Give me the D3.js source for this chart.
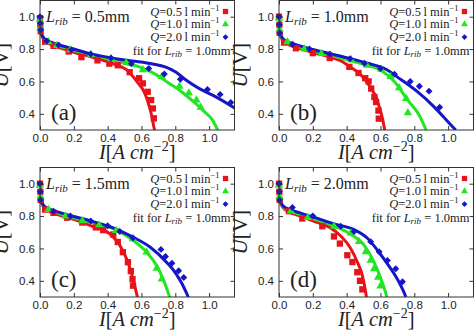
<!DOCTYPE html>
<html>
<head>
<meta charset="utf-8">
<script src="https://cdn.jsdelivr.net/npm/d3@7"></script>
<style>
  body { margin: 0; background: #fff; }
  svg { display: block; }
</style>
</head>
<body>
<div id="container"></div>
<script>
// panel texts
const ribLabels = ['0.5', '1.0', '1.5', '2.0'];
const panelTags = ['(a)', '(b)', '(c)', '(d)'];
const flowLabels = ['0.5', '1.0', '2.0'];
const xTicks = [0, 0.2, 0.4, 0.6, 0.8, 1.0];
const yTicks = [0.4, 0.6, 0.8, 1.0];

// measured points [I, U], panel (a) L_rib = 0.5mm
const measA05 = [[0,0.99],[0.002,0.95],[0.004,0.91],[0.03,0.845],[0.08,0.82],[0.17,0.785],[0.245,0.75],[0.34,0.73],[0.41,0.71],[0.46,0.70],[0.53,0.657],[0.586,0.62],[0.608,0.588],[0.637,0.536],[0.657,0.485],[0.667,0.433],[0.673,0.372]];
const measA10 = [[0,0.98],[0.003,0.93],[0.05,0.845],[0.1,0.822],[0.18,0.795],[0.3,0.765],[0.42,0.74],[0.51,0.715],[0.608,0.672],[0.72,0.63],[0.824,0.57],[0.88,0.528],[0.925,0.485],[0.95,0.44]];
const measA20 = [[0,1.0],[0.002,0.96],[0.004,0.92],[0.04,0.85],[0.11,0.825],[0.186,0.795],[0.3,0.77],[0.42,0.745],[0.54,0.71],[0.643,0.68],[0.735,0.646],[0.83,0.613],[0.99,0.55],[1.065,0.52],[1.128,0.47]];
// fits, panel (a)
const fitA05 = [[0,1.0],[0.002,0.94],[0.008,0.89],[0.025,0.855],[0.06,0.83],[0.1,0.813],[0.2,0.78],[0.3,0.752],[0.4,0.722],[0.47,0.695],[0.52,0.665],[0.55,0.63],[0.58,0.59],[0.61,0.547],[0.63,0.5],[0.647,0.443],[0.662,0.38],[0.673,0.32],[0.68,0.29]];
const fitA10 = [[0,1.0],[0.002,0.945],[0.008,0.895],[0.025,0.86],[0.06,0.838],[0.1,0.823],[0.2,0.793],[0.3,0.767],[0.4,0.742],[0.47,0.722],[0.53,0.705],[0.588,0.69],[0.65,0.662],[0.706,0.629],[0.76,0.59],[0.824,0.547],[0.87,0.508],[0.92,0.464],[0.97,0.415],[1.02,0.361],[1.055,0.29]];
const fitA20 = [[0,1.0],[0.002,0.95],[0.008,0.9],[0.025,0.865],[0.06,0.845],[0.1,0.83],[0.2,0.8],[0.3,0.77],[0.4,0.75],[0.47,0.737],[0.56,0.725],[0.667,0.708],[0.74,0.69],[0.8,0.66],[0.863,0.609],[0.94,0.557],[1.04,0.505],[1.16,0.43]];

// panel (b) L_rib = 1.0mm
const measB05 = [[0,1.0],[0.002,0.95],[0.004,0.9],[0.03,0.84],[0.1,0.805],[0.2,0.775],[0.3,0.745],[0.416,0.69],[0.47,0.652],[0.51,0.62],[0.53,0.6],[0.545,0.556],[0.564,0.504],[0.574,0.473],[0.588,0.42],[0.59,0.37]];
const measB10 = [[0,0.99],[0.003,0.92],[0.05,0.845],[0.15,0.8],[0.25,0.772],[0.426,0.733],[0.52,0.7],[0.604,0.675],[0.66,0.63],[0.71,0.56],[0.752,0.494],[0.762,0.406]];
const measB20 = [[0,1.0],[0.002,0.95],[0.004,0.9],[0.08,0.83],[0.18,0.8],[0.3,0.77],[0.42,0.74],[0.505,0.712],[0.6,0.68],[0.683,0.645],[0.776,0.6],[0.83,0.57],[0.887,0.54],[0.95,0.44]];
const fitB05 = [[0,1.0],[0.002,0.935],[0.008,0.885],[0.025,0.85],[0.06,0.826],[0.1,0.81],[0.2,0.78],[0.3,0.75],[0.36,0.73],[0.42,0.69],[0.485,0.64],[0.545,0.556],[0.575,0.5],[0.594,0.44],[0.612,0.37],[0.625,0.3]];
const fitB10 = [[0,1.0],[0.002,0.94],[0.008,0.89],[0.025,0.855],[0.06,0.835],[0.1,0.82],[0.2,0.79],[0.3,0.762],[0.4,0.735],[0.5,0.705],[0.604,0.668],[0.683,0.598],[0.762,0.483],[0.83,0.39],[0.87,0.3]];
const fitB20 = [[0,1.0],[0.002,0.945],[0.008,0.895],[0.025,0.862],[0.06,0.842],[0.1,0.827],[0.2,0.797],[0.3,0.772],[0.4,0.747],[0.525,0.712],[0.624,0.68],[0.723,0.61],[0.82,0.535],[0.92,0.44],[1.0,0.35],[1.045,0.3]];

// panel (c) L_rib = 1.5mm
const measC05 = [[0,1.0],[0.002,0.95],[0.004,0.9],[0.03,0.84],[0.08,0.82],[0.16,0.79],[0.25,0.76],[0.33,0.73],[0.374,0.713],[0.433,0.686],[0.46,0.64],[0.49,0.577],[0.52,0.515],[0.537,0.46],[0.547,0.41],[0.55,0.37]];
const measC10 = [[0,0.99],[0.003,0.92],[0.05,0.84],[0.15,0.8],[0.25,0.77],[0.35,0.745],[0.45,0.71],[0.55,0.66],[0.63,0.577],[0.69,0.477],[0.72,0.41]];
const measC20 = [[0,1.0],[0.002,0.95],[0.004,0.9],[0.08,0.83],[0.18,0.8],[0.3,0.77],[0.4,0.74],[0.472,0.705],[0.55,0.665],[0.715,0.594],[0.742,0.55],[0.78,0.508],[0.82,0.462],[0.85,0.42]];
const fitC05 = [[0,1.0],[0.002,0.935],[0.008,0.885],[0.025,0.85],[0.06,0.826],[0.1,0.81],[0.2,0.78],[0.315,0.734],[0.413,0.69],[0.472,0.62],[0.52,0.515],[0.55,0.41],[0.57,0.326],[0.576,0.3]];
const fitC10 = [[0,1.0],[0.002,0.94],[0.008,0.89],[0.025,0.855],[0.06,0.835],[0.1,0.82],[0.2,0.79],[0.3,0.762],[0.453,0.713],[0.55,0.65],[0.63,0.577],[0.69,0.494],[0.728,0.41],[0.758,0.326],[0.77,0.29]];
const fitC20 = [[0,1.0],[0.002,0.945],[0.008,0.895],[0.025,0.862],[0.06,0.842],[0.1,0.827],[0.2,0.797],[0.3,0.77],[0.45,0.72],[0.55,0.67],[0.65,0.609],[0.748,0.515],[0.807,0.44],[0.866,0.326],[0.88,0.29]];

// panel (d) L_rib = 2.0mm
const measD05 = [[0,1.0],[0.002,0.95],[0.004,0.9],[0.059,0.83],[0.138,0.785],[0.256,0.737],[0.325,0.674],[0.36,0.63],[0.404,0.558],[0.434,0.516],[0.463,0.453],[0.479,0.4],[0.493,0.347]];
const measD10 = [[0,0.99],[0.003,0.92],[0.07,0.83],[0.17,0.79],[0.325,0.737],[0.424,0.695],[0.473,0.642],[0.513,0.579],[0.542,0.526],[0.562,0.474],[0.586,0.421],[0.6,0.368]];
const measD20 = [[0,1.0],[0.002,0.95],[0.004,0.9],[0.079,0.853],[0.2,0.8],[0.365,0.737],[0.444,0.705],[0.542,0.642],[0.592,0.579],[0.641,0.526],[0.69,0.474],[0.73,0.394]];
const fitD05 = [[0,1.0],[0.002,0.935],[0.008,0.885],[0.025,0.85],[0.06,0.825],[0.128,0.8],[0.2,0.77],[0.3,0.73],[0.365,0.677],[0.424,0.6],[0.463,0.516],[0.493,0.432],[0.513,0.326],[0.518,0.29]];
const fitD10 = [[0,1.0],[0.002,0.94],[0.008,0.89],[0.025,0.855],[0.06,0.835],[0.1,0.818],[0.2,0.785],[0.325,0.74],[0.424,0.688],[0.503,0.621],[0.562,0.516],[0.6,0.42],[0.631,0.326],[0.64,0.29]];
const fitD20 = [[0,1.0],[0.002,0.945],[0.008,0.895],[0.025,0.862],[0.06,0.842],[0.1,0.827],[0.2,0.795],[0.325,0.752],[0.444,0.716],[0.523,0.663],[0.582,0.589],[0.641,0.505],[0.7,0.41],[0.74,0.326],[0.75,0.3]];

const measured = [[measA05, measA10, measA20], [measB05, measB10, measB20], [measC05, measC10, measC20], [measD05, measD10, measD20]];
const fits = [[fitA05, fitA10, fitA20], [fitB05, fitB10, fitB20], [fitC05, fitC10, fitC20], [fitD05, fitD10, fitD20]];

const colors = ['#e8121a', '#22e622', '#1616c8'];
const symbols = [d3.symbolSquare, d3.symbolTriangle, d3.symbolSquare];
const symSizes = [40, 30, 24];
const symRotate = [0, 0, 45];

const W = 474, H = 332;
const plotW = 194.5, plotH = 129.5;
const origins = [[40, 0.5], [279, 0.5], [40, 167.5], [279, 167.5]];
const serif = '"Liberation Serif", "DejaVu Serif", serif';
const sans = '"Liberation Sans", Arial, sans-serif';

const svg = d3.select('#container')
    .append('svg')
    .attr('width', W)
    .attr('height', H)
    .attr('viewBox', `0 0 ${W} ${H}`);

svg.append('rect').attr('width', W).attr('height', H).attr('fill', '#fff');

const x = d3.scaleLinear().domain([0, 1.15]).range([0, plotW]);
const y = d3.scaleLinear().domain([0.3, 1.1]).range([plotH, 0]);

const line = d3.line()
    .x(d => x(d[0]))
    .y(d => y(d[1]))
    .curve(d3.curveMonotoneX);

origins.forEach((o, p) => {
    const g = svg.append('g').attr('transform', `translate(${o[0]}, ${o[1]})`);

    g.append('clipPath').attr('id', 'clip' + p)
        .append('rect').attr('width', plotW).attr('height', plotH);

    // fit curves
    g.append('g').attr('clip-path', `url(#clip${p})`)
        .selectAll('path')
        .data(fits[p]).enter()
        .append('path')
        .attr('d', d => line(d))
        .attr('fill', 'none')
        .attr('stroke', (d, i) => colors[i])
        .attr('stroke-width', 3)
        .attr('stroke-linejoin', 'round');

    // measured points
    measured[p].forEach((series, i) => {
        g.append('g')
            .selectAll('path')
            .data(series).enter()
            .append('path')
            .attr('d', d3.symbol().type(symbols[i]).size(symSizes[i]))
            .attr('transform', d => `translate(${x(d[0])}, ${y(d[1])}) rotate(${symRotate[i]})`)
            .attr('fill', colors[i]);
    });

    // axes, ticks pointing inward on all four sides
    const axB = g.append('g').attr('transform', `translate(0, ${plotH})`)
        .call(d3.axisBottom(x).tickValues(xTicks).tickFormat(d3.format('.1f')).tickSizeInner(-4).tickSizeOuter(0).tickPadding(4));
    const axL = g.append('g')
        .call(d3.axisLeft(y).tickValues(yTicks).tickFormat(d3.format('.1f')).tickSizeInner(-4).tickSizeOuter(0).tickPadding(5));
    const axT = g.append('g')
        .call(d3.axisTop(x).tickValues(xTicks).tickFormat('').tickSizeInner(-4).tickSizeOuter(0));
    const axR = g.append('g').attr('transform', `translate(${plotW}, 0)`)
        .call(d3.axisRight(y).tickValues(yTicks).tickFormat('').tickSizeInner(-4).tickSizeOuter(0));
    [axB, axL, axT, axR].forEach(a => {
        a.select('.domain').remove();
        a.selectAll('line').attr('stroke', '#333');
        a.selectAll('text').attr('font-family', sans).attr('font-size', 11.5).attr('fill', '#222');
    });

    g.append('rect')
        .attr('width', plotW).attr('height', plotH)
        .attr('fill', 'none').attr('stroke', '#333').attr('stroke-width', 1);

    // L_rib title
    const t = g.append('text')
        .attr('x', 6).attr('y', 21)
        .attr('font-family', serif).attr('font-size', 16).attr('fill', '#222');
    t.append('tspan').attr('font-style', 'italic').text('L');
    t.append('tspan').attr('font-style', 'italic').attr('font-size', 11).attr('dy', 3).text('rib');
    t.append('tspan').attr('dy', -3).text(` = ${ribLabels[p]}mm`);

    // panel tag
    g.append('text')
        .attr('x', 11).attr('y', plotH - 10)
        .attr('font-family', serif).attr('font-size', 23).attr('fill', '#222')
        .text(panelTags[p]);

    // legend
    const lx = plotW - 15;
    flowLabels.forEach((q, i) => {
        const by = 15 + i * 12.8;
        const lt = g.append('text')
            .attr('x', lx).attr('y', by)
            .attr('text-anchor', 'end')
            .attr('font-family', serif).attr('font-size', 12.5).attr('fill', '#222');
        lt.append('tspan').attr('font-style', 'italic').text('Q');
        lt.append('tspan').text(`=${q}\u2009l min`);
        lt.append('tspan').attr('font-size', 8.5).attr('dy', -5).text('\u22121');
        g.append('path')
            .attr('d', d3.symbol().type(symbols[i]).size(symSizes[i] * 0.7))
            .attr('transform', `translate(${plotW - 9}, ${by - 4}) rotate(${symRotate[i]})`)
            .attr('fill', colors[i]);
    });
    const ft = g.append('text')
        .attr('x', plotW - 4).attr('y', 15 + 3 * 12.8 + 1)
        .attr('text-anchor', 'end')
        .attr('font-family', serif).attr('font-size', 12.5).attr('fill', '#222');
    ft.append('tspan').text('fit for ');
    ft.append('tspan').attr('font-style', 'italic').text('L');
    ft.append('tspan').attr('font-style', 'italic').attr('font-size', 9).attr('dy', 2.5).text('rib');
    ft.append('tspan').attr('dy', -2.5).text(' = 1.0mm');

    // axis labels
    const xl = g.append('text')
        .attr('x', plotW / 2).attr('y', plotH + 28.5)
        .attr('text-anchor', 'middle')
        .attr('font-family', serif).attr('font-size', 20.5).attr('fill', '#222');
    xl.append('tspan').attr('font-style', 'italic').text('I');
    xl.append('tspan').text('[');
    xl.append('tspan').attr('font-style', 'italic').text('A cm');
    xl.append('tspan').attr('font-size', 14).attr('dy', -8).text('\u22122');
    xl.append('tspan').attr('dy', 8).text(']');

    const yl = g.append('text')
        .attr('transform', `translate(-32, ${plotH / 2}) rotate(-90)`)
        .attr('text-anchor', 'middle')
        .attr('font-family', serif).attr('font-size', 21).attr('fill', '#222');
    yl.append('tspan').attr('font-style', 'italic').text('U');
    yl.append('tspan').text('[V]');
});
</script>
</body>
</html>
